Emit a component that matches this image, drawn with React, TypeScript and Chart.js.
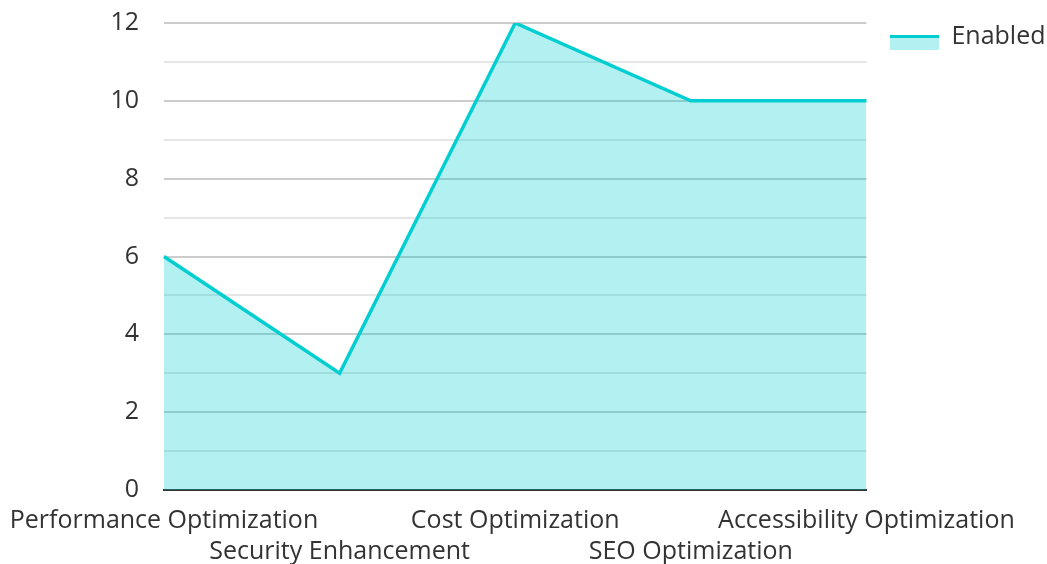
import React, { useEffect, useRef } from "react";
import { Chart, registerables } from "chart.js";

Chart.register(...registerables);

const categories = [
  "Performance Optimization",
  "Security Enhancement",
  "Cost Optimization",
  "SEO Optimization",
  "Accessibility Optimization",
];
const enabledValues = [6, 3, 12, 10, 10];
const seriesName = "Enabled";

const LINE = "#00CED1";
const FILL = "rgba(0,206,209,0.3)";
const FONT = "'Open Sans', 'Noto Sans', sans-serif";

function makeLegendSwatch(): HTMLCanvasElement {
  const c = document.createElement("canvas");
  c.width = 69;
  c.height = 26;
  const g = c.getContext("2d")!;
  g.fillStyle = FILL;
  g.fillRect(20, 11, 49, 15);
  g.fillStyle = LINE;
  g.fillRect(20, 11, 49, 3);
  return c;
}

export default function App() {
  const ref = useRef<HTMLCanvasElement>(null);
  useEffect(() => {
    document.body.style.margin = "0";
    const swatch = makeLegendSwatch();
    const chart = new Chart(ref.current!, {
      type: "line",
      data: {
        labels: categories,
        datasets: [
          {
            label: seriesName,
            data: enabledValues,
            borderColor: LINE,
            backgroundColor: FILL,
            borderWidth: 3.5,
            fill: "origin",
            tension: 0,
            pointRadius: 0,
            pointHoverRadius: 0,
            pointStyle: swatch as any,
          },
        ],
      },
      options: {
        animation: false,
        responsive: true,
        maintainAspectRatio: false,
        layout: { autoPadding: false, padding: { left: 10, top: 5, right: -8.5, bottom: 0 } },
        plugins: {
          tooltip: { enabled: false },
          legend: {
            position: "right",
            align: "start",
            title: {
              display: true,
              text: "",
              font: { size: 10, lineHeight: 1 },
              padding: { top: 0, bottom: 6 },
            },
            labels: {
              usePointStyle: true,
              pointStyleWidth: 69,
              color: "#333",
              font: { family: FONT, size: 25 },
              padding: 3.5,
            },
          },
        },
        scales: {
          x: {
            offset: false,
            grid: { display: false, drawTicks: false },
            border: { display: true, color: "#333", width: 2 },
            ticks: {
              autoSkip: false,
              maxRotation: 0,
              minRotation: 0,
              padding: 15,
              color: "#333",
              font: { family: FONT, size: 25, lineHeight: 1.24 },
              callback: (v: any, i: number) =>
                i % 2 === 0 ? [categories[i], ""] : ["", categories[i]],
            },
            afterFit: (s: any) => {
              s.paddingLeft = 164;
              s.paddingRight = 0;
              s.height = 74;
            },
          },
          y: {
            min: 0,
            max: 12,
            border: { display: false },
            grid: {
              drawTicks: false,
              color: (ctx: any) =>
                ctx.tick.value === 0
                  ? "rgba(0,0,0,0)"
                  : ctx.tick.value % 2 === 0
                  ? "#cccccc"
                  : "#e6e6e6",
              lineWidth: 2,
            },
            ticks: {
              stepSize: 1,
              padding: 25,
              color: "#333",
              font: { family: FONT, size: 25 },
              callback: (v: any) => (Number(v) % 2 === 0 ? String(v) : ""),
            },
            afterFit: (s: any) => {
              s.paddingTop = 23;
              s.paddingBottom = 0;
            },
          },
        },
      },
    });
    return () => chart.destroy();
  }, []);
  return (
    <div style={{ width: 1047, height: 564, position: "relative" }}>
      <canvas ref={ref} />
    </div>
  );
}
